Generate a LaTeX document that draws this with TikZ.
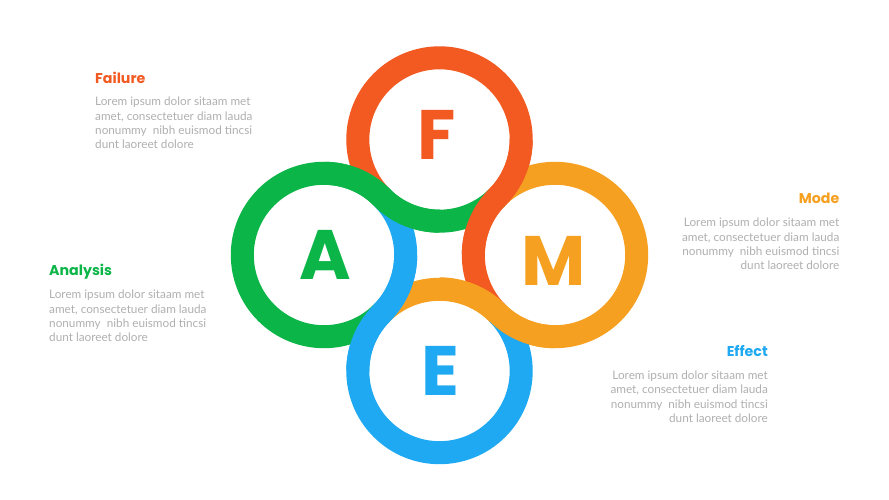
\documentclass[tikz,border=0pt]{standalone}
\usepackage{fontspec}
\setmainfont{Lato}
\newfontfamily\popfont{Poppins}
\usetikzlibrary{calc}
\definecolor{cF}{HTML}{F25A22}
\definecolor{cA}{HTML}{0BB548}
\definecolor{cM}{HTML}{F6A021}
\definecolor{cE}{HTML}{1EA9F2}
\definecolor{bodygray}{HTML}{B0B0B0}
\begin{document}
\begin{tikzpicture}[x=1pt,y=1pt,
  ring/.style={line width=23pt,line cap=butt},
  letter/.style={inner sep=0pt,font=\fontsize{70}{70}\popfont\bfseries},
  title/.style={inner sep=0pt,font=\fontsize{14.2}{14.2}\popfont\bfseries},
  body/.style={inner sep=0pt,text=bodygray,font=\fontsize{11.75}{14.4}\selectfont}]
\useasboundingbox (0,0) rectangle (889,500);
\fill[white] (0,0) rectangle (889,500);
\def\R{81.7}
\coordinate (F) at (439.5,360.5);
\coordinate (A) at (324,245);
\coordinate (M) at (555,245);
\coordinate (E) at (439.5,129);
% base arcs
\draw[ring,cF] ($(F)+(225:\R)$) arc[start angle=225,end angle=-45,radius=\R];
\draw[ring,cF] ($(M)+(135:\R)$) arc[start angle=135,end angle=225,radius=\R];
\draw[ring,cM] ($(M)+(135:\R)$) arc[start angle=135,end angle=-135,radius=\R];
\draw[ring,cM] ($(E)+(45:\R)$) arc[start angle=45,end angle=135,radius=\R];
\draw[ring,cE] ($(E)+(45:\R)$) arc[start angle=45,end angle=-225,radius=\R];
\draw[ring,cE] ($(A)+(-45:\R)$) arc[start angle=-45,end angle=45,radius=\R];
\draw[ring,cA] ($(A)+(-45:\R)$) arc[start angle=-45,end angle=-315,radius=\R];
\draw[ring,cA] ($(F)+(225:\R)$) arc[start angle=225,end angle=315,radius=\R];
% through patches at junctions
\draw[ring,cA] ($(A)+(90:\R)$) arc[start angle=90,end angle=45,radius=\R] arc[start angle=225,end angle=270,radius=\R];
\draw[ring,cF] ($(F)+(0:\R)$) arc[start angle=0,end angle=-45,radius=\R] arc[start angle=135,end angle=180,radius=\R];
\draw[ring,cM] ($(M)+(-90:\R)$) arc[start angle=-90,end angle=-135,radius=\R] arc[start angle=45,end angle=90,radius=\R];
\draw[ring,cE] ($(E)+(-180:\R)$) arc[start angle=-180,end angle=-225,radius=\R] arc[start angle=-45,end angle=0,radius=\R];
% letters
\node[letter,text=cF] (lF) at (436.7,364.7) {F};
\node[letter,text=cA] (lA) at (325,245) {A};
\node[letter,text=cM] (lM) at (554,239) {M};
\node[letter,text=cE] (lE) at (440,129.5) {E};
% texts
\node[title,text=cF,anchor=base west] (tF) at (95,416) {Failure};
\node[body,anchor=base west,align=left] (bF) at (95,351.1) {Lorem ipsum dolor sitaam met\\amet, consectetuer diam lauda\\nonummy~~nibh euismod tincsi\\dunt laoreet dolore};
\node[title,text=cA,anchor=base west] (tA) at (49,224) {Analysis};
\node[body,anchor=base west,align=left] (bA) at (49,158.1) {Lorem ipsum dolor sitaam met\\amet, consectetuer diam lauda\\nonummy~~nibh euismod tincsi\\dunt laoreet dolore};
\node[title,text=cM,anchor=base east] (tM) at (839.5,296.7) {Mode};
\node[body,anchor=base east,align=right] (bM) at (839.5,230.1) {Lorem ipsum dolor sitaam met\\amet, consectetuer diam lauda\\nonummy~~nibh euismod tincsi\\dunt laoreet dolore};
\node[title,text=cE,anchor=base east] (tE) at (768,143.3) {Effect};
\node[body,anchor=base east,align=right] (bE) at (768,77.5) {Lorem ipsum dolor sitaam met\\amet, consectetuer diam lauda\\nonummy~~nibh euismod tincsi\\dunt laoreet dolore};
\end{tikzpicture}
\end{document}
